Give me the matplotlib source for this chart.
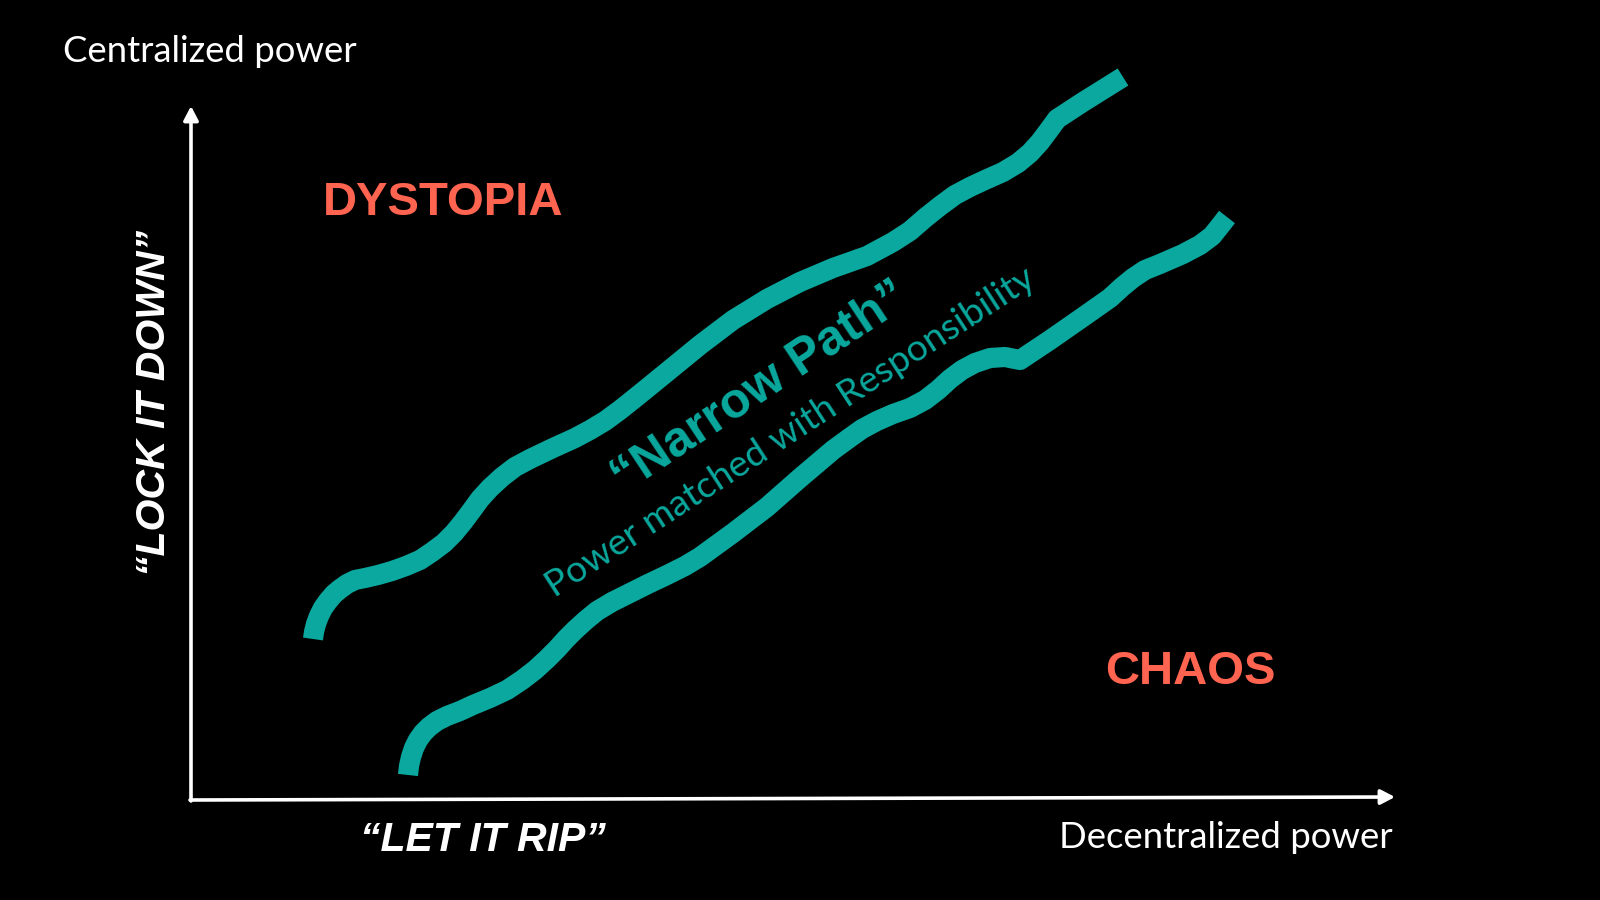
import matplotlib
matplotlib.use("Agg")
import matplotlib.pyplot as plt
from matplotlib.patches import FancyArrowPatch

# ---- data (reference pixel space, 1600x900, y downward) ----
upper_x = [313, 314, 316, 319, 323, 328, 334, 340, 347, 355, 365, 378, 392, 406,
           420, 432, 444, 454, 463, 472, 480, 490, 502, 515, 530, 553, 575, 590,
           605, 620, 640, 667, 700, 733, 767, 800, 833, 867, 893, 910, 925, 940,
           955, 970, 985, 1003, 1018, 1030, 1040, 1049, 1057, 1083, 1123]
upper_y = [639, 632, 624, 616, 608, 601, 594, 589, 584, 580, 578, 575, 571, 566,
           560, 552, 543, 533, 522, 510, 499, 488, 477, 467, 459, 448, 438, 430,
           421, 410, 394, 372, 345, 320, 299, 282, 268, 256, 242, 231, 218, 206,
           195, 187, 180, 172, 163, 153, 142, 130, 119, 102, 77]

lower_x = [408, 409, 411, 414, 418, 423, 429, 437, 447, 460, 473, 490, 507, 522,
           535, 547, 557, 566, 575, 586, 597, 612, 630, 648, 667, 685, 700, 733,
           767, 800, 833, 848, 862, 877, 893, 910, 925, 938, 950, 962, 975, 990,
           1005, 1020, 1050, 1083, 1110, 1122, 1133, 1145, 1160, 1183, 1200, 1212,
           1220, 1227]
lower_y = [775, 766, 757, 748, 740, 733, 727, 721, 716, 711, 705, 698, 690, 680,
           670, 659, 649, 639, 630, 620, 611, 602, 593, 584, 575, 566, 557, 533,
           507, 478, 450, 439, 429, 421, 414, 408, 400, 390, 379, 370, 363, 358,
           357, 360, 340, 317, 298, 287, 278, 270, 264, 254, 245, 236, 226, 217]

TEAL = "#0AA89E"
CORAL = "#FF6450"

fig = plt.figure(figsize=(16, 9), dpi=100, facecolor="black")
ax = fig.add_axes([0, 0, 1, 1])
ax.set_facecolor("black")
ax.set_xlim(0, 1600)
ax.set_ylim(900, 0)
ax.axis("off")

# curves
for xs, ys in [(upper_x, upper_y), (lower_x, lower_y)]:
    ax.plot(xs, ys, color=TEAL, lw=14.5, solid_capstyle="butt",
            solid_joinstyle="round")

# axes arrows
astyle = "-|>,head_length=6.5,head_width=3.4"
ax.add_patch(FancyArrowPatch((191, 801), (191, 106), arrowstyle=astyle,
                             mutation_scale=1.3, color="white", lw=2.6, shrinkA=0, shrinkB=0))
ax.add_patch(FancyArrowPatch((190, 800), (1395, 797), arrowstyle=astyle,
                             mutation_scale=1.3, color="white", lw=2.6, shrinkA=0, shrinkB=0))

# texts
light = dict(family=["Lato", "DejaVu Sans"], weight="normal", color="white")
ax.text(63, 52, "Centralized power", fontsize=26.3, ha="left", va="center", **light)
ax.text(1393, 838, "Decentralized power", fontsize=26.3, ha="right", va="center", **light)

bold = dict(family=["Liberation Sans", "DejaVu Sans"], weight="bold")
ax.text(443, 203, "DYSTOPIA", fontsize=34, color=CORAL, ha="center", va="center", **bold)
ax.text(1190, 672, "CHAOS", fontsize=34, color=CORAL, ha="center", va="center", **bold)

ax.text(154, 403, "\u201cLOCK IT DOWN\u201d", fontsize=29.5, color="white", rotation=90,
        style="italic", ha="center", va="center", **bold)
ax.text(483, 840, "\u201cLET IT RIP\u201d", fontsize=29.5, color="white",
        style="italic", ha="center", va="center", **bold)

ax.text(761, 388, "\u201cNarrow Path\u201d", fontsize=36, color=TEAL, rotation=33.5,
        rotation_mode="anchor", ha="center", va="center", **bold)
ax.text(791, 432, "Power matched with Responsibility", fontsize=26.8, color=TEAL,
        rotation=33, rotation_mode="anchor", ha="center", va="center",
        family=["Lato", "DejaVu Sans"])

fig.savefig("out.png", dpi=100, facecolor="black")
